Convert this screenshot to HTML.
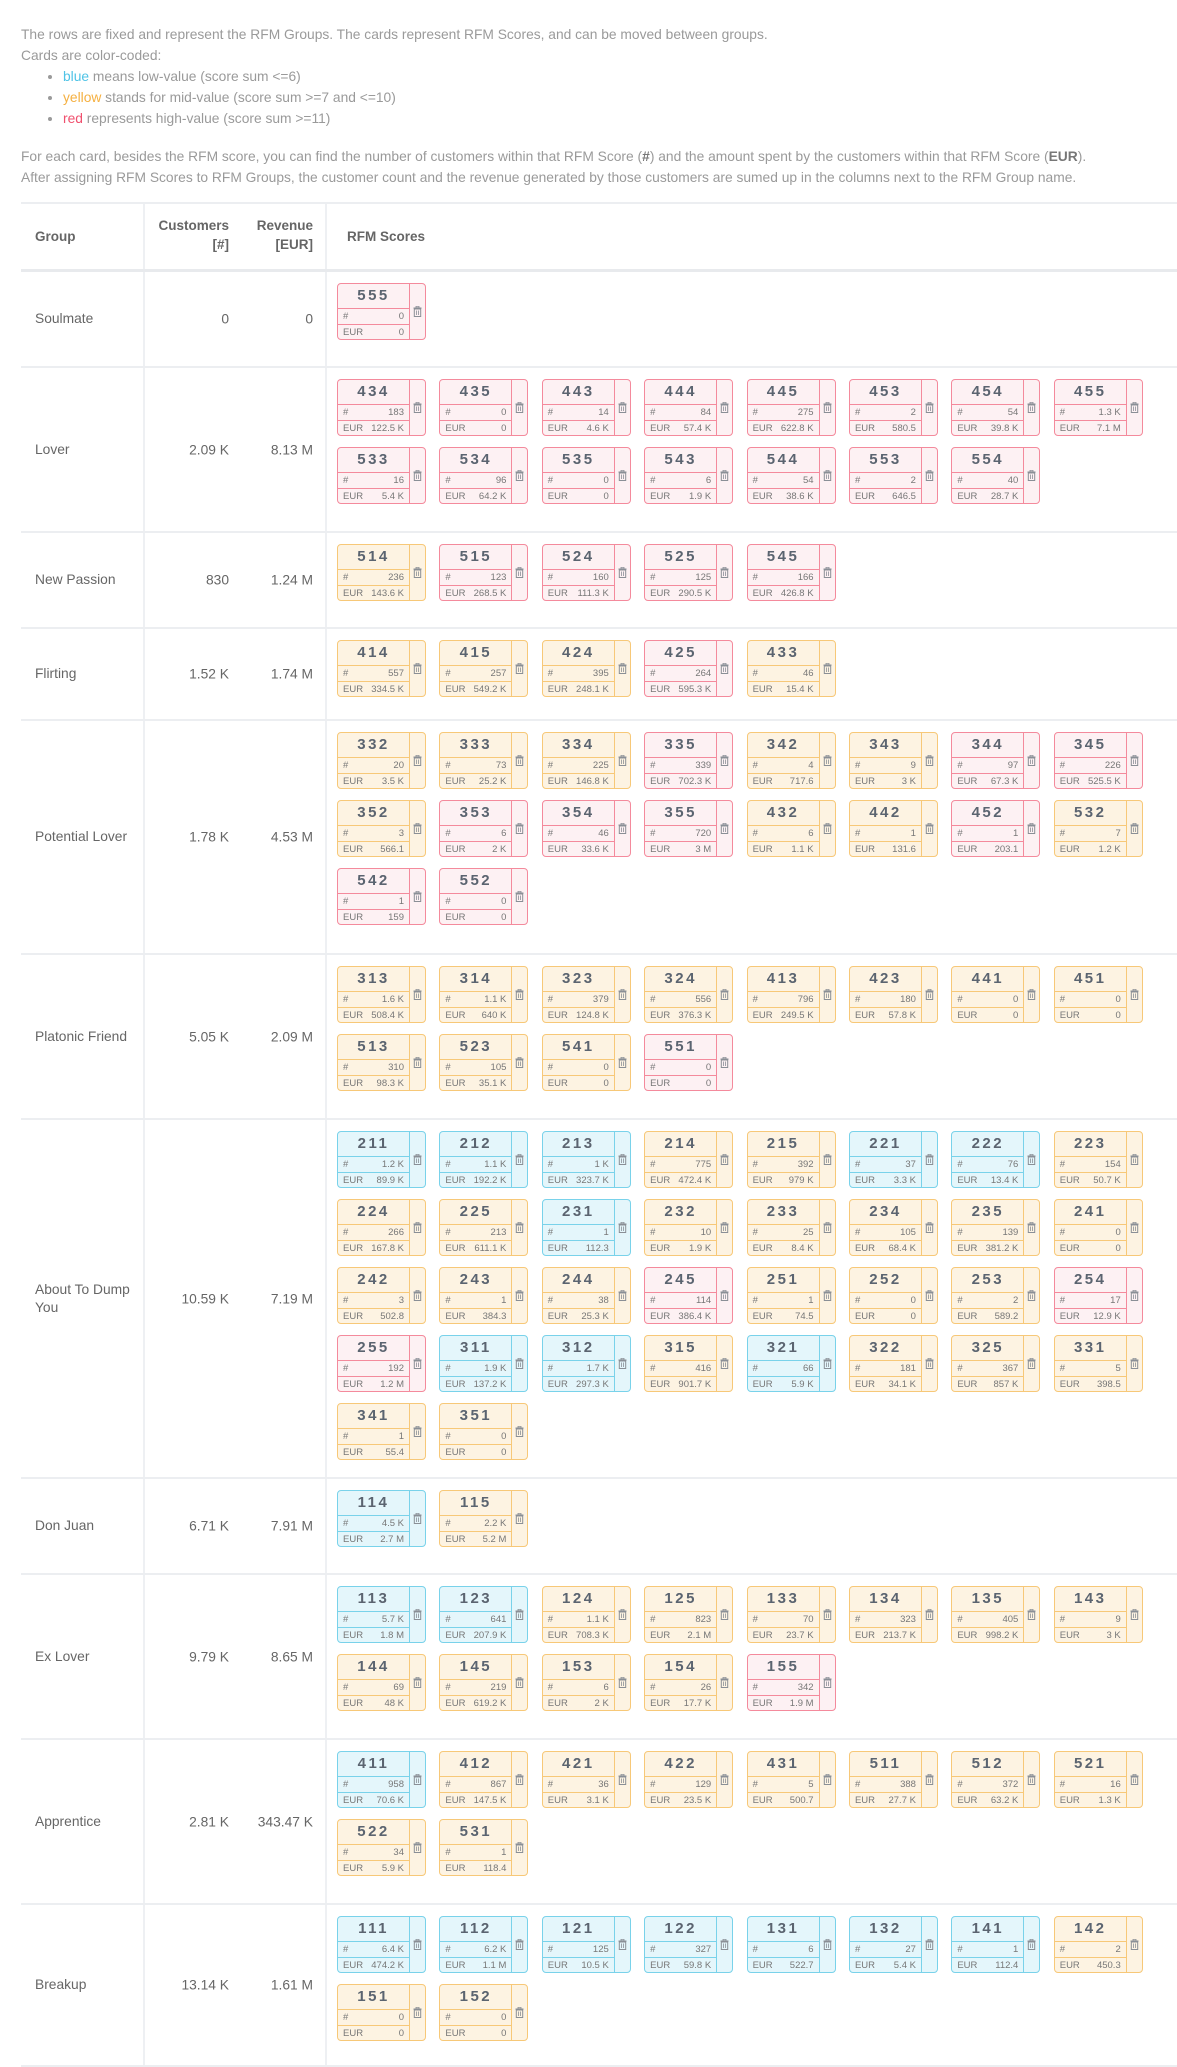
<!DOCTYPE html>
<html><head><meta charset="utf-8">
<style>
body{margin:0;width:1177px;height:2048px;overflow:hidden;background:#fff;font-family:"Liberation Sans",Arial,sans-serif;color:#999;}
.intro{position:absolute;left:21px;top:24px;font-size:13.8px;line-height:21px;color:#9a9a9a;}
.intro ul{margin:0;padding-left:42px;}
.intro p{margin:0;}
.bl{color:#4fc3e6}.yl{color:#f5b041}.rd{color:#f0506e}
#tbl{position:absolute;left:21px;top:202px;width:1156px;border-top:2px solid #eceef1;}
.hdr{position:relative;height:65px;border-bottom:3px solid #e8eaed;font-weight:bold;color:#666;font-size:13.5px;}
.row{position:relative;border-bottom:2px solid #eceef1;}
.c1,.c2,.c3{position:absolute;top:0;bottom:0;}
.vl{position:absolute;top:0;bottom:0;width:2px;background:#eef0f3;}
.gname{position:absolute;left:14px;width:100px;font-size:13.8px;color:#666;line-height:18px;transform:translateY(-50%);}
.num{position:absolute;font-size:13.8px;color:#666;text-align:right;transform:translateY(-50%);}
.cards{position:absolute;left:316px;top:11px;width:840px;display:flex;flex-wrap:wrap;}
.card{width:89px;height:57px;box-sizing:border-box;border:1.5px solid;border-radius:4px;margin:0 13.4px 11px 0;display:flex;color:#777;}
.card.red{border-color:#f48a9c;background:#fdf1f3}
.card.yellow{border-color:#f7c878;background:#fdf3e2}
.card.blue{border-color:#79d2ea;background:#e4f6fb}
.card .main{width:71px;height:100%;display:flex;flex-direction:column;}
.card .sc{height:24px;line-height:24px;text-align:center;font-weight:bold;font-size:15px;letter-spacing:2.5px;color:#5b6470;}
.card .ln{height:15px;line-height:15px;font-size:9.5px;display:flex;justify-content:space-between;padding:0 5px 0 5px;border-top:1.5px solid;}
.card.red .ln,.card.red .tr{border-color:#f48a9c}
.card.yellow .ln,.card.yellow .tr{border-color:#f7c878}
.card.blue .ln,.card.blue .tr{border-color:#79d2ea}
.card .tr{flex:1;border-left:1.5px solid;display:flex;align-items:center;justify-content:center;}
</style></head><body>
<div class="intro">
<p>The rows are fixed and represent the RFM Groups. The cards represent RFM Scores, and can be moved between groups.</p>
<p>Cards are color-coded:</p>
<ul>
<li><span class="bl">blue</span> means low-value (score sum &lt;=6)</li>
<li><span class="yl">yellow</span> stands for mid-value (score sum &gt;=7 and &lt;=10)</li>
<li><span class="rd">red</span> represents high-value (score sum &gt;=11)</li>
</ul>
<p style="margin-top:17px">For each card, besides the RFM score, you can find the number of customers within that RFM Score (<b style="color:#777">#</b>) and the amount spent by the customers within that RFM Score (<b style="color:#777">EUR</b>).</p>
<p>After assigning RFM Scores to RFM Groups, the customer count and the revenue generated by those customers are sumed up in the columns next to the RFM Group name.</p>
</div>
<div id="tbl">
<div class="hdr">
<div class="vl" style="left:122px"></div><div class="vl" style="left:304px"></div>
<div style="position:absolute;left:14px;top:25px">Group</div>
<div style="position:absolute;right:948px;top:12px;text-align:right;line-height:19px">Customers<br>[#]</div>
<div style="position:absolute;right:864px;top:12px;text-align:right;line-height:19px">Revenue<br>[EUR]</div>
<div style="position:absolute;left:326px;top:25px">RFM Scores</div>
</div>
</div>
<script>
const groupNames=["Soulmate","Lover","New Passion","Flirting","Potential Lover","Platonic Friend","About To Dump You","Don Juan","Ex Lover","Apprentice","Breakup"];
const groupCustomers=["0","2.09 K","830","1.52 K","1.78 K","5.05 K","10.59 K","6.71 K","9.79 K","2.81 K","13.14 K"];
const groupRevenue=["0","8.13 M","1.24 M","1.74 M","4.53 M","2.09 M","7.19 M","7.91 M","8.65 M","343.47 K","1.61 M"];
const rowHeights=[66,163,94,90,232,163,357,94,163,163,160];
const groupCards=[
[["555","0","0"]],
[["434","183","122.5 K"],["435","0","0"],["443","14","4.6 K"],["444","84","57.4 K"],["445","275","622.8 K"],["453","2","580.5"],["454","54","39.8 K"],["455","1.3 K","7.1 M"],["533","16","5.4 K"],["534","96","64.2 K"],["535","0","0"],["543","6","1.9 K"],["544","54","38.6 K"],["553","2","646.5"],["554","40","28.7 K"]],
[["514","236","143.6 K"],["515","123","268.5 K"],["524","160","111.3 K"],["525","125","290.5 K"],["545","166","426.8 K"]],
[["414","557","334.5 K"],["415","257","549.2 K"],["424","395","248.1 K"],["425","264","595.3 K"],["433","46","15.4 K"]],
[["332","20","3.5 K"],["333","73","25.2 K"],["334","225","146.8 K"],["335","339","702.3 K"],["342","4","717.6"],["343","9","3 K"],["344","97","67.3 K"],["345","226","525.5 K"],["352","3","566.1"],["353","6","2 K"],["354","46","33.6 K"],["355","720","3 M"],["432","6","1.1 K"],["442","1","131.6"],["452","1","203.1"],["532","7","1.2 K"],["542","1","159"],["552","0","0"]],
[["313","1.6 K","508.4 K"],["314","1.1 K","640 K"],["323","379","124.8 K"],["324","556","376.3 K"],["413","796","249.5 K"],["423","180","57.8 K"],["441","0","0"],["451","0","0"],["513","310","98.3 K"],["523","105","35.1 K"],["541","0","0"],["551","0","0"]],
[["211","1.2 K","89.9 K"],["212","1.1 K","192.2 K"],["213","1 K","323.7 K"],["214","775","472.4 K"],["215","392","979 K"],["221","37","3.3 K"],["222","76","13.4 K"],["223","154","50.7 K"],["224","266","167.8 K"],["225","213","611.1 K"],["231","1","112.3"],["232","10","1.9 K"],["233","25","8.4 K"],["234","105","68.4 K"],["235","139","381.2 K"],["241","0","0"],["242","3","502.8"],["243","1","384.3"],["244","38","25.3 K"],["245","114","386.4 K"],["251","1","74.5"],["252","0","0"],["253","2","589.2"],["254","17","12.9 K"],["255","192","1.2 M"],["311","1.9 K","137.2 K"],["312","1.7 K","297.3 K"],["315","416","901.7 K"],["321","66","5.9 K"],["322","181","34.1 K"],["325","367","857 K"],["331","5","398.5"],["341","1","55.4"],["351","0","0"]],
[["114","4.5 K","2.7 M"],["115","2.2 K","5.2 M"]],
[["113","5.7 K","1.8 M"],["123","641","207.9 K"],["124","1.1 K","708.3 K"],["125","823","2.1 M"],["133","70","23.7 K"],["134","323","213.7 K"],["135","405","998.2 K"],["143","9","3 K"],["144","69","48 K"],["145","219","619.2 K"],["153","6","2 K"],["154","26","17.7 K"],["155","342","1.9 M"]],
[["411","958","70.6 K"],["412","867","147.5 K"],["421","36","3.1 K"],["422","129","23.5 K"],["431","5","500.7"],["511","388","27.7 K"],["512","372","63.2 K"],["521","16","1.3 K"],["522","34","5.9 K"],["531","1","118.4"]],
[["111","6.4 K","474.2 K"],["112","6.2 K","1.1 M"],["121","125","10.5 K"],["122","327","59.8 K"],["131","6","522.7"],["132","27","5.4 K"],["141","1","112.4"],["142","2","450.3"],["151","0","0"],["152","0","0"]]
];
const trash='<svg width="9" height="11" viewBox="0 0 9 11"><rect x="0.5" y="1.5" width="8" height="1.2" fill="#8a8f96"/><rect x="3" y="0.3" width="3" height="1.4" fill="none" stroke="#8a8f96" stroke-width="0.8"/><rect x="1.3" y="3" width="6.4" height="7.5" fill="none" stroke="#8a8f96" stroke-width="1"/><line x1="3.5" y1="4.5" x2="3.5" y2="9" stroke="#8a8f96" stroke-width="0.8"/><line x1="5.5" y1="4.5" x2="5.5" y2="9" stroke="#8a8f96" stroke-width="0.8"/></svg>';
function colorFor(s){const sum=s.split('').reduce((a,c)=>a+ +c,0);return sum<=6?'blue':(sum<=10?'yellow':'red');}
const tbl=document.getElementById('tbl');
groupNames.forEach((g,i)=>{
  const r=document.createElement('div');
  
  
  r.className='row';
  const h=Math.max(rowHeights[i],0)+ (i===0?28:0);
  r.style.height=h+'px';
  const mid=h/2;
  r.innerHTML='<div class="vl" style="left:122px"></div><div class="vl" style="left:304px"></div>';
  const n=document.createElement('div');n.className='gname';n.style.top=mid+'px';n.textContent=g;
  
  
  r.appendChild(n);
  const c=document.createElement('div');c.className='num';c.style.right='948px';c.style.top=mid+'px';c.textContent=groupCustomers[i];
  
  
  r.appendChild(c);
  const v=document.createElement('div');v.className='num';v.style.right='864px';v.style.top=mid+'px';v.textContent=groupRevenue[i];
  
  
  r.appendChild(v);
  const cs=document.createElement('div');cs.className='cards';
  
  
  groupCards[i].forEach(cd=>{
    const k=document.createElement('div');
    k.className='card '+colorFor(cd[0]);
    
    
    k.innerHTML='<div class="main"><div class="sc">'+cd[0]+'</div><div class="ln"><span>#</span><span>'+cd[1]+'</span></div><div class="ln" style="height:16px;line-height:16px"><span>EUR</span><span>'+cd[2]+'</span></div></div><div class="tr">'+trash+'</div>';
    const t=k.querySelector('.tr');
    
    
    cs.appendChild(k);
  });
  r.appendChild(cs);
  tbl.appendChild(r);
});
</script>
</body></html>
